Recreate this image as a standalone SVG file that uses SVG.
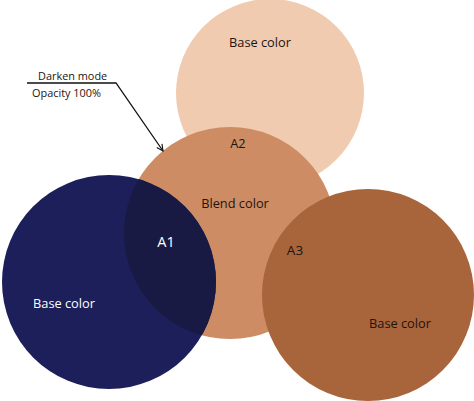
<svg xmlns="http://www.w3.org/2000/svg" width="474" height="401" viewBox="0 0 474 401">
<style>
text{font-family:"Open Sans","Liberation Sans",Arial,sans-serif;font-size:12.8px;fill:#1e1410;text-anchor:middle}
.w{fill:#ffffff}
.s{font-size:10.9px;text-anchor:start}
.a{font-size:14.5px}
</style>
<defs>
<marker id="ah" viewBox="0 0 10 10" refX="9" refY="5" markerWidth="8" markerHeight="8" orient="auto" markerUnits="userSpaceOnUse">
<path d="M1,1 L9,5 L1,9" fill="none" stroke="#111" stroke-width="1.4"/>
</marker>
<clipPath id="navyClip"><circle cx="109" cy="282" r="107"/></clipPath>
</defs>
<rect width="474" height="401" fill="#ffffff"/>
<g id="base-top">
<circle cx="270" cy="93" r="94" fill="#f0cbb0"/>
<text x="260" y="47">Base color</text>
</g>
<g id="blend">
<circle cx="230" cy="233" r="106" fill="#cd8c63"/>
<text x="238" y="148">A2</text>
<text x="235" y="208">Blend color</text>
</g>
<g id="base-navy">
<circle cx="109" cy="282" r="107" fill="#1c1f5a"/>
<circle cx="230" cy="233" r="106" fill="#181a44" clip-path="url(#navyClip)"/>
<text class="w" x="64" y="308">Base color</text>
<text class="w a" x="166" y="247">A1</text>
</g>
<g id="base-brown">
<circle cx="368" cy="295" r="106" fill="#a8643a"/>
<text x="295" y="255" style="font-size:13.5px">A3</text>
<text x="400" y="328">Base color</text>
</g>
<g id="label">
<text class="s" x="38" y="80">Darken mode</text>
<text class="s" x="32" y="97">Opacity 100%</text>
</g>
<g id="connectors">
<path d="M27,83 L116,83 L163,151" fill="none" stroke="#111" stroke-width="1.3" marker-end="url(#ah)"/>
</g>
</svg>
